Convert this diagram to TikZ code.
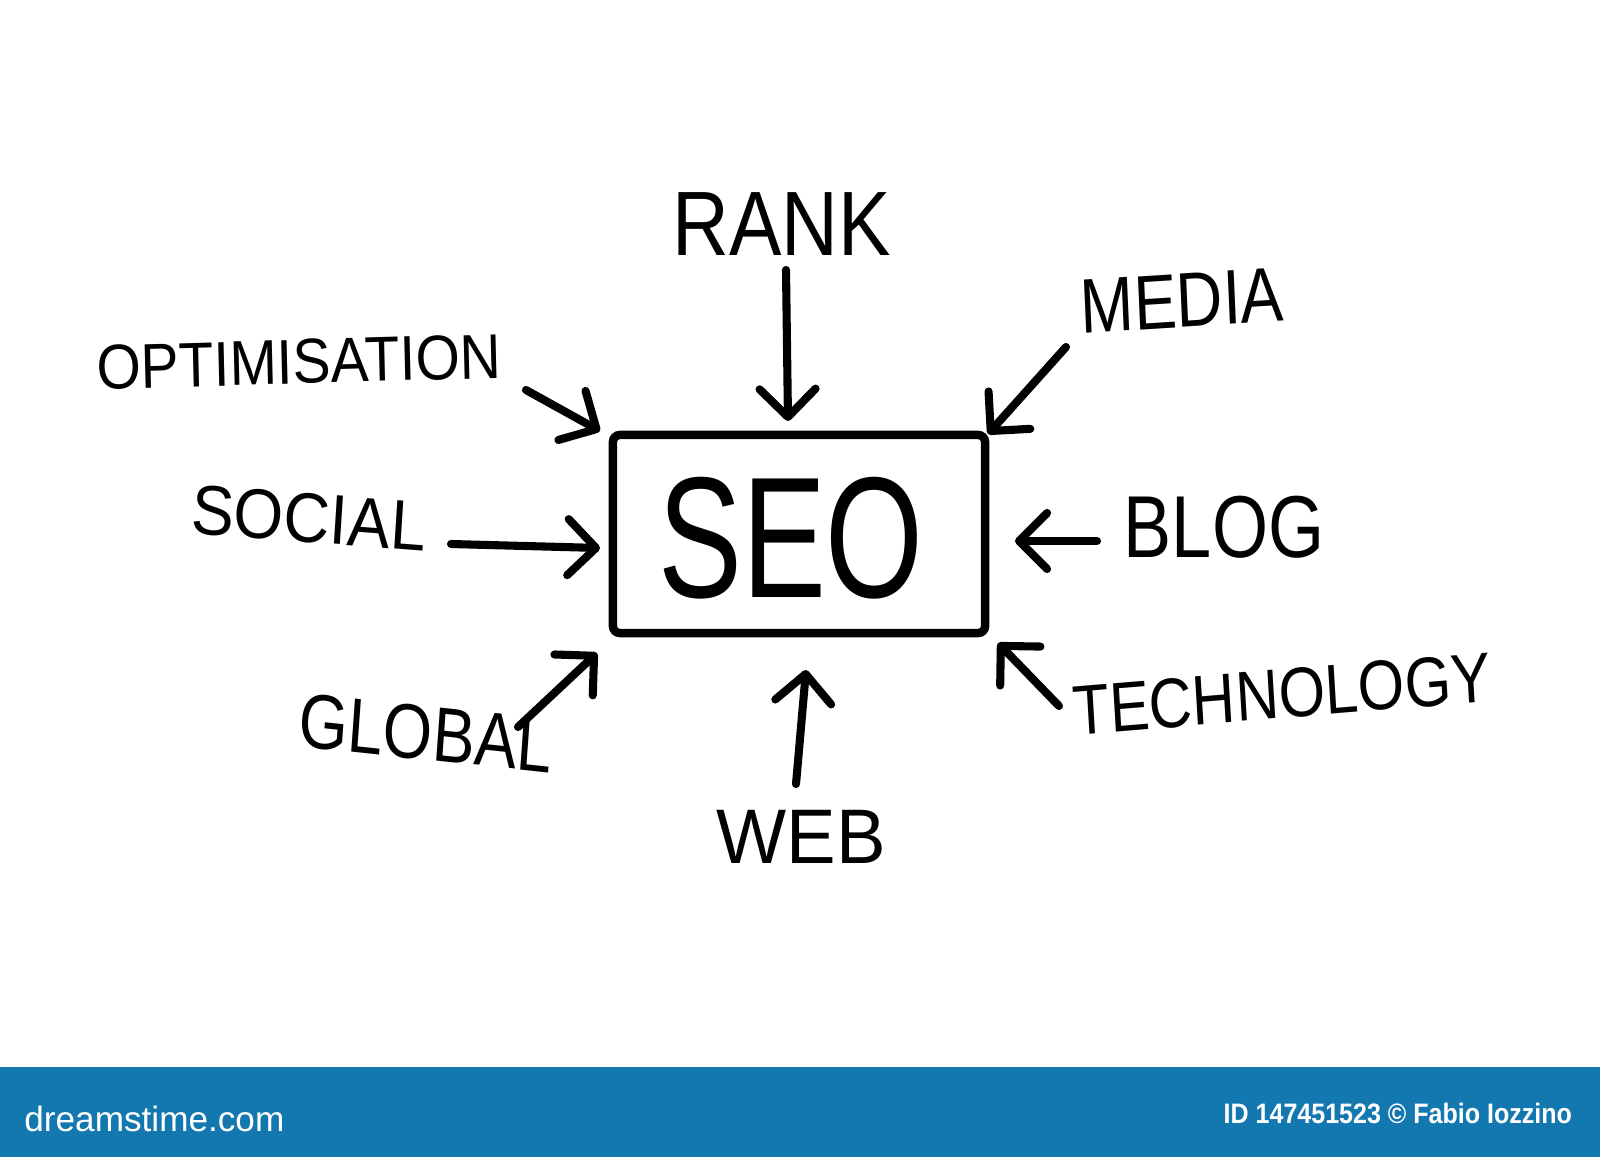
\documentclass[tikz,border=0pt]{standalone}
\usepackage{fontspec}
\setmainfont{Liberation Sans}
\usetikzlibrary{arrows.meta}
\definecolor{footblue}{RGB}{19,120,176}

\begin{document}
\begin{tikzpicture}[x=0.01cm, y=-0.01cm,
    word/.style={inner sep=0pt, font=\fontsize{#1}{#1}\selectfont},
    arr/.style={-{Straight Barb[length=2.8mm,width=5.6mm,round]}, line width=2.3pt, line cap=round, line join=round}]

    \useasboundingbox (0,0) rectangle (1600,1157);
    \fill[footblue] (0,1067) rectangle (1600,1157);

    \node[draw, line width=2.4pt, rounded corners=2pt, minimum width=3.72cm, minimum height=1.98cm] (seo) at (799,534) {};
    \node[word=49, xscale=0.73] (seotext) at (791,538) {SEO};

    \node[word=26, xscale=0.86]            (rank)   at (782,224)  {RANK};
    \node[word=18, xscale=0.9, rotate=1.5] (optim)  at (299,362)  {OPTIMISATION};
    \node[word=22, xscale=0.83, rotate=3]  (media)  at (1182,301) {MEDIA};
    \node[word=20, xscale=0.91, rotate=-4] (social) at (309,518)  {SOCIAL};
    \node[word=25, xscale=0.82]            (blog)   at (1224,527) {BLOG};
    \node[word=22, xscale=0.82, rotate=-5] (global) at (426,733)  {GLOBAL};
    \node[word=20, xscale=0.85, rotate=4]  (techno) at (1282,694) {TECHNOLOGY};
    \node[word=22, xscale=0.96]            (web)    at (801,837)  {WEB};

    \draw[arr] ([shift={(4,46)}]rank.center)    -- ([shift={(-11,-113)}]seo.center);
    \draw[arr] ([shift={(227,28)}]optim.center) -- ([shift={(-199,-103)}]seo.center);
    \draw[arr] ([shift={(-116,46)}]media.center) -- ([shift={(189,-100)}]seo.center);
    \draw[arr] ([shift={(142,26)}]social.center) -- ([shift={(-199,14)}]seo.center);
    \draw[arr] ([shift={(-127,14)}]blog.center) -- ([shift={(216,7)}]seo.center);
    \draw[arr] ([shift={(92,-6)}]global.center) -- ([shift={(-202,119)}]seo.center);
    \draw[arr] ([shift={(-5,-53)}]web.center)   -- ([shift={(7,136)}]seo.center);
    \draw[arr] ([shift={(-223,12)}]techno.center) -- ([shift={(199,109)}]seo.center);

    \node[text=white, anchor=west, font=\fontsize{10}{10}\selectfont] (brand) at (12,1119) {dreamstime.com};
    \node[text=white, anchor=east, xscale=0.89, font=\bfseries\fontsize{8}{8}\selectfont] (credit) at (1583,1113) {ID 147451523 © Fabio Iozzino};

\end{tikzpicture}
\end{document}
